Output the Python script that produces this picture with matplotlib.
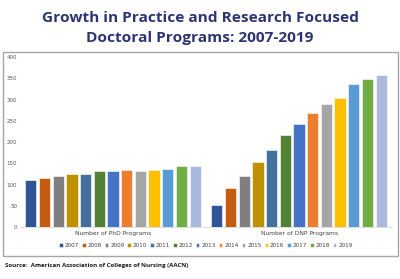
import numpy as np
import matplotlib.pyplot as plt
from matplotlib.patches import Rectangle

years = ['2007', '2008', '2009', '2010', '2011', '2012', '2013',
         '2014', '2015', '2016', '2017', '2018', '2019']
groups = ['Number of PhD Programs', 'Number of DNP Programs']
phd = [111, 116, 120, 124, 126, 131, 131, 134, 132, 134, 136, 144, 145]
dnp = [53, 92, 120, 153, 182, 217, 243, 268, 289, 303, 336, 348, 357]
colors = ['#2F5597', '#C55A11', '#7F7F7F', '#BF9000', '#41719C', '#548235',
          '#4472C4', '#ED7D31', '#A5A5A5', '#FFC000', '#5B9BD5', '#70AD47',
          '#A9B8DC']

fig = plt.figure(figsize=(4, 2.79), dpi=100)
fig.patch.set_facecolor('white')

# chart frame
fig.patches.append(Rectangle((0.0075, 0.082), 0.9875, 0.731, transform=fig.transFigure,
                             fill=False, edgecolor='#A6A6A6', linewidth=1.0))

ax = fig.add_axes([0.05, 0.186, 0.93, 0.609])
n = len(years)
slot = 0.0736
bw = 0.06
x = np.arange(len(groups))
for i, yr in enumerate(years):
    off = (i - (n - 1) / 2) * slot
    ax.bar(x + off, [phd[i], dnp[i]], width=bw, color=colors[i],
           edgecolor='white', linewidth=0.4, label=yr)

ax.set_xlim(-0.5, 1.5)
ax.set_ylim(0, 400)
ax.set_yticks(range(0, 401, 50))
ax.tick_params(axis='y', labelsize=4, colors='#595959', length=0, pad=2)
ax.set_xticks(x)
ax.set_xticklabels(groups, fontsize=4.3, color='#404040')
ax.tick_params(axis='x', length=0, pad=3)
for s in ['top', 'right', 'left']:
    ax.spines[s].set_visible(False)
ax.spines['bottom'].set_color('#D9D9D9')
ax.spines['bottom'].set_linewidth(0.6)

ax.legend(loc='center', bbox_to_anchor=(0.5, -0.11), ncol=13, frameon=False,
          fontsize=4.1, handlelength=0.6, handleheight=0.6, handletextpad=0.35,
          columnspacing=0.55, labelcolor='#404040', borderpad=0)

fig.text(0.5, 0.90, 'Growth in Practice and Research Focused\nDoctoral Programs: 2007-2019',
         ha='center', va='center', fontsize=11.1, fontweight='bold', color='#2E3473',
         family='Open Sans', linespacing=1.5)
fig.text(0.013, 0.05, 'Source:  American Association of Colleges of Nursing (AACN)',
         ha='left', va='center', fontsize=4.4, fontweight='bold', color='#1A1A1A',
         family='Open Sans')

fig.savefig('out.png', dpi=100)
